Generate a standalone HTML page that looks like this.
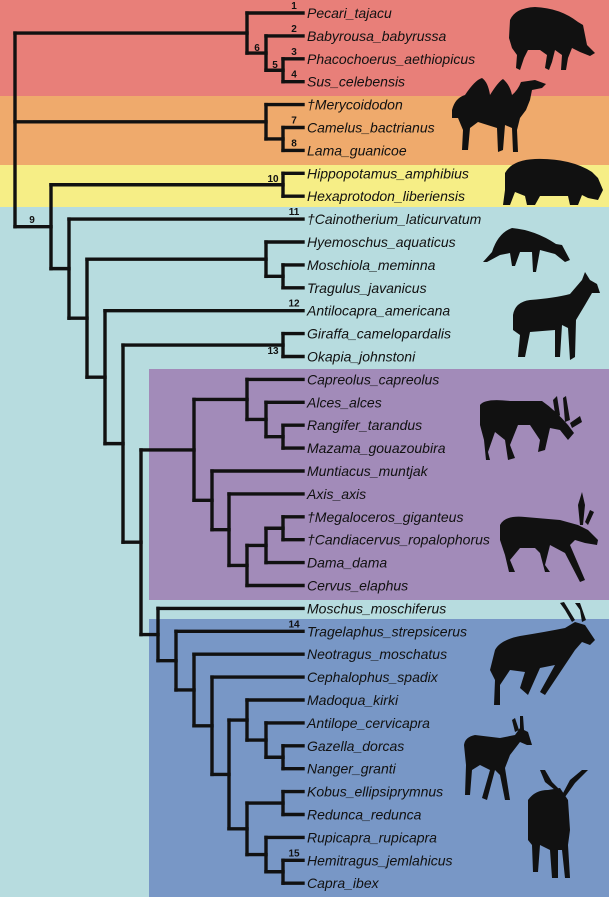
<!DOCTYPE html>
<html><head><meta charset="utf-8"><style>
html,body{margin:0;padding:0;width:609px;height:897px;overflow:hidden;background:#b7dcdf}
svg{display:block}
.leaf{font-family:"Liberation Sans",sans-serif;font-style:italic;font-size:14px;fill:#111}
.num{font-family:"Liberation Sans",sans-serif;font-weight:bold;font-size:10px;fill:#111}
</style></head><body>
<svg id="tree" width="609" height="897" xmlns="http://www.w3.org/2000/svg">
<g>
<rect x="0" y="0" width="609" height="96" fill="#e87f79"/>
<rect x="0" y="96" width="609" height="69" fill="#efaa6c"/>
<rect x="0" y="165" width="609" height="42" fill="#f6ee86"/>
<rect x="0" y="207" width="609" height="690" fill="#b7dcdf"/>
<rect x="149" y="369" width="460" height="231" fill="#a28bb9"/>
<rect x="149" y="619" width="460" height="278" fill="#7897c6"/>
</g>
<g id="branches" stroke="#111" stroke-width="3.4" fill="none" stroke-linecap="square"></g>
<g id="labels"></g>
<g id="nums"></g>
<g fill="#111">
<path d="M510,20 Q515,8 535,7 Q560,8 578,22 L583,25 L587,45 L595,53 L590,56 L580,52 L572,48 L568,58 L566,70 L561,70 L562,55 L555,50 L552,62 L549,70 L545,68 L547,55 L540,50 L528,50 L524,58 L520,70 L516,68 L517,55 L512,48 L509,38 Z"/>
<path d="M452,110 Q455,98 465,95 Q475,80 482,78 Q488,82 490,95 Q498,82 503,79 Q510,85 512,95 Q518,90 521,82 L535,80 L546,84 L542,88 L532,90 L530,100 L526,110 L520,118 L517,130 L518,152 L513,152 L512,128 L505,125 L503,150 L498,152 L497,128 L478,122 L470,128 L468,150 L462,150 L463,130 L458,118 L452,118 Z"/>
<path d="M505,173 Q512,160 535,159 Q570,158 592,172 L598,178 L603,190 L598,200 L588,198 L582,195 L578,205 L570,205 L568,196 L540,196 L535,205 L527,205 L525,196 L515,192 L510,205 L503,205 L505,190 Z"/>
<path d="M483,262 L492,252 Q498,233 512,228 Q535,230 556,244 L562,245 L570,260 L565,262 L555,254 L540,250 L536,272 L533,272 L532,252 L520,252 L515,266 L512,266 L510,253 L500,255 L487,262 Z"/>
<path d="M513,315 Q515,302 530,300 Q555,298 570,294 L582,280 L585,272 L590,280 L597,284 L600,293 L592,293 L585,305 L576,320 L575,357 L570,360 L568,328 L562,325 L560,357 L555,357 L555,330 L530,332 L525,357 L518,357 L520,335 L513,330 Z"/>
<path d="M480,405 Q485,398 510,401 L542,401 Q555,410 568,425 L574,433 L568,440 L560,430 L550,428 L545,450 L538,452 L540,440 L530,425 L518,425 L510,445 L515,458 L508,460 L505,440 L495,432 L488,452 L490,460 L486,460 L484,440 L480,425 Z M556,420 L553,400 L557,396 L560,415 Z M565,422 L563,398 L566,396 L570,420 Z M570,423 L580,416 L582,422 L572,428 Z"/>
<path d="M500,525 Q505,515 525,517 L560,520 L578,525 L588,530 L598,540 L597,545 L585,543 L575,540 L570,545 L585,580 L580,582 L565,553 L550,545 L545,565 L550,572 L545,572 L540,553 L535,548 L520,548 L510,560 L515,572 L509,572 L505,555 L500,540 Z M580,525 L578,505 L582,492 L585,505 L583,525 Z M585,522 L590,510 L594,512 L588,525 Z"/>
<path d="M495,650 Q500,640 520,636 Q545,632 565,628 L575,622 L585,625 L595,640 L590,645 L582,642 L575,650 L565,665 L545,695 L540,692 L555,665 L540,668 L528,695 L520,688 L525,672 L510,670 L500,685 L500,705 L494,705 L495,680 L490,670 Z M572,622 L565,610 L560,603 L564,602 L575,620 Z M582,622 L580,610 L575,603 L580,603 L586,620 Z"/>
<path d="M464,745 Q465,737 475,735 L500,738 L515,735 L520,728 L528,732 L532,745 L527,745 L520,742 L510,755 L505,768 L510,800 L505,800 L500,775 L495,770 L487,800 L482,798 L490,770 L480,765 L472,770 L470,795 L465,795 L466,765 Z M515,732 L512,720 L515,718 L519,730 Z M520,732 L520,716 L523,716 L524,730 Z"/>
<path d="M528,800 Q535,790 548,790 L560,788 L568,800 L570,830 L568,845 L570,878 L565,878 L562,850 L558,850 L558,878 L552,878 L550,850 L540,845 L538,872 L533,872 L532,845 L528,840 Z M555,790 L545,782 L540,770 L545,770 L552,782 L560,790 Z M562,795 L570,780 L582,770 L588,770 L575,783 L565,797 Z"/>
</g>
</svg>
<script>
// Leaf names (top to bottom)
const leafNames = ["Pecari_tajacu","Babyrousa_babyrussa","Phacochoerus_aethiopicus","Sus_celebensis","†Merycoidodon","Camelus_bactrianus","Lama_guanicoe","Hippopotamus_amphibius","Hexaprotodon_liberiensis","†Cainotherium_laticurvatum","Hyemoschus_aquaticus","Moschiola_meminna","Tragulus_javanicus","Antilocapra_americana","Giraffa_camelopardalis","Okapia_johnstoni","Capreolus_capreolus","Alces_alces","Rangifer_tarandus","Mazama_gouazoubira","Muntiacus_muntjak","Axis_axis","†Megaloceros_giganteus","†Candiacervus_ropalophorus","Dama_dama","Cervus_elaphus","Moschus_moschiferus","Tragelaphus_strepsicerus","Neotragus_moschatus","Cephalophus_spadix","Madoqua_kirki","Antilope_cervicapra","Gazella_dorcas","Nanger_granti","Kobus_ellipsiprymnus","Redunca_redunca","Rupicapra_rupicapra","Hemitragus_jemlahicus","Capra_ibex"];
// Tree topology: [nodeX, children...]; numbers are leaf indices
const tree = [15,
  [247,0,[266,1,[283,2,3]]],
  [266,4,[283,5,6]],
  [51,[283,7,8],
    [69,9,
      [87,[266,10,[283,11,12]],
        [105,13,
          [123,[283,14,15],
            [141,
              [194,[247,16,[266,17,[283,18,19]]],[212,20,[229,21,[247,[266,[283,22,23],24],25]]]],
              [158,26,[176,27,[194,28,[212,29,[229,[247,30,[266,31,[283,32,33]]],[247,[283,34,35],[266,36,[283,37,38]]]]]]]]
            ]]]]]]];
const leafNumLeaf = [0,1,2,3,5,6,9,13,27,37];
const leafNumText = ["1","2","3","4","7","8","11","12","14","15"];
const leafTop = 13, leafStep = 22.9, tipX = 303;
const NS = "http://www.w3.org/2000/svg";
const br = document.getElementById("branches");
const yOf = i => leafTop + i * leafStep;
function line(x1,y1,x2,y2,name){
  const l = document.createElementNS(NS,"line");
  l.setAttribute("x1",x1);l.setAttribute("y1",y1);l.setAttribute("x2",x2);l.setAttribute("y2",y2);
  
  
  br.appendChild(l);
}
function draw(node){
  if (typeof node === "number") return {y: yOf(node), x: tipX};
  const x = node[0];
  const kids = node.slice(1).map(draw);
  kids.forEach(k => line(x, k.y, k.x, k.y, "branch"));
  const y0 = kids[0].y, y1 = kids[kids.length-1].y;
  line(x, y0, x, y1, "node-connector");
  return {x, y: (y0 + y1) / 2};
}
draw(tree);
const lab = document.getElementById("labels");
leafNames.forEach((n,i)=>{
  const t = document.createElementNS(NS,"text");
  t.setAttribute("x",307);t.setAttribute("y",yOf(i)+5);t.setAttribute("class","leaf");
  t.textContent = n;
  
  
  lab.appendChild(t);
});
const nums = document.getElementById("nums");
function num(x,y,s){
  const t = document.createElementNS(NS,"text");
  t.setAttribute("x",x);t.setAttribute("y",y);t.setAttribute("class","num");t.setAttribute("text-anchor","middle");
  t.textContent = s;
  
  
  nums.appendChild(t);
}
leafNumLeaf.forEach((li,k)=>num(294, yOf(li)-4, leafNumText[k]));
num(275, 68, "5"); num(257, 51, "6");
num(32, 223, "9"); num(273, 182, "10"); num(273, 354, "13");
</script>
</body></html>
